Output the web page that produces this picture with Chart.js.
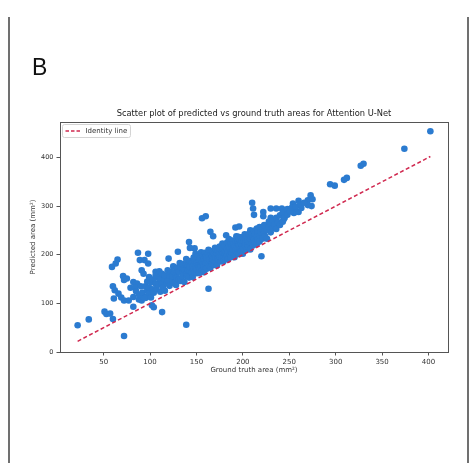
<!DOCTYPE html>
<html><head><meta charset="utf-8">
<script src="https://cdn.jsdelivr.net/npm/chart.js@4.4.0/dist/chart.umd.min.js"></script>
<style>
html,body{margin:0;padding:0;background:#fff;}
#wrap{position:relative;width:474px;height:474px;overflow:hidden;background:#fff;}
canvas{position:absolute;left:0;top:0;}
.vline{position:absolute;top:17px;height:446px;width:2px;background:#707070;}
#lbl{position:absolute;left:32px;top:56px;font:23px/23px "Liberation Sans",Arial,sans-serif;color:#111;}
</style></head><body>
<div id="wrap">
<canvas id="c" width="474" height="474"></canvas>
<div class="vline" style="left:8px"></div>
<div class="vline" style="left:467px"></div>
<div id="lbl">B</div>
</div>
<script>
const chartTitle = "Scatter plot of predicted vs ground truth areas for Attention U-Net";
const xAxisTitle = "Ground truth area (mm²)";
const yAxisTitle = "Predicted area (mm²)";
const legendLabel = "Identity line";
const xTicks = [50, 100, 150, 200, 250, 300, 350, 400];
const yTicks = [0, 100, 200, 300, 400];
const identityX = [22, 402];

// ground truth areas (x) and predicted areas (y)
const gtArea = [
22,34,51,53,57,60,72,139,113,102,104,59,63,65,87,98,89,94,98,60,62,66,69,61,72,77,82,88,91,93,82,71,75,72,82,86,79,84,91,93,106,111,120,130,142,148,143,149,156,160,163,165,168,182,192,196,210,211,212,215,211,220,254,260,273,270,275,270,274,230,236,242,244,222,222,255,260,256,263,230,236,244,294,299,309,312,327,330,374,402,
85,88,92,90,96,
95,95, 97,97, 99,99,99, 101,101, 103,103, 104, 106,106, 107, 109,109, 110, 111,111, 113,113, 114, 116,116,116, 118, 119,119,
121,121, 122, 124,124, 125, 126,126, 128,128, 129,129, 131,131, 132, 133,133, 135,135,135, 136, 137,137, 139,139,139,
140, 141,141, 142, 143,143,143, 145,145, 146,146, 147,147, 148,148, 149,149, 150,150,150, 151,151, 152,152, 153,153, 154,154,154,
155,155, 156,156, 157,157, 158,158,158, 159,159, 160,160,160, 161,161, 162,162, 163,163,163, 164,164, 165,165, 166,166,166,
167,167, 168,168, 169,169, 170,170,170, 171,171, 172,172, 173,173, 174,174, 175,175,175, 176,176, 177,177, 178,178, 179,179,179,
180,180, 181,181, 182,182, 183,183,183, 184,184, 185,185, 186,186, 187,187,187, 188,188, 189,189, 190,190,190, 191,191, 192,192,
193,193, 194,194, 195,195,195, 196,196, 197,197, 198,198,198, 199,199, 200,200,200, 201,201, 202,202, 203,203, 204,204, 205,205,
206,206, 207,207, 208,208,208, 210,210, 211,211, 212,212, 213,213, 215,215, 216,216, 218,218,218, 219, 221,221, 223,223, 224,
226,226, 228,228, 230,230, 232,232, 234, 236,236, 238, 240,240, 243,243, 245, 248,248, 251, 253, 257, 262, 266
];
const predArea = [
55,67,83,78,79,68,33,56,82,96,92,175,182,190,204,202,189,189,182,135,127,120,112,110,106,106,113,108,106,113,93,156,151,148,144,141,132,132,168,161,165,158,192,206,226,213,214,202,275,279,130,247,238,240,256,258,307,295,282,254,247,197,305,311,322,312,314,302,300,295,295,295,285,288,279,286,288,296,296,276,273,273,345,342,354,358,383,387,418,454,
125,118,122,135,113,
111,135, 126,145, 121,154,132, 112,143, 129,149, 122, 141,157, 130, 152,139, 166, 124,150, 140,161, 133, 149,126,157, 141, 168,147,
136,157, 165, 145,156, 176, 142,164, 157,138, 173,153, 165,149, 183, 146,173, 162,181,156, 171, 144,168, 180,161,191,
155, 177,168, 153, 187,167,176, 163,183, 175,154, 169,194, 186,163, 175,190, 162,183,170, 182,196, 170,179, 189,162, 178,193,170,
205,176, 185,168, 198,181, 176,191,164, 187,204, 175,196,183, 171,191, 201,183, 180,210,195, 190,177, 200,173, 186,207,193,
181,197, 205,190, 179,202, 198,187,214, 194,210, 178,203, 208,192, 188,201, 217,197,207, 186,212, 201,194, 223,206, 193,212,186,
206,219, 200,192, 216,205, 225,199,212, 206,190, 217,232, 200,212, 223,206,195, 217,204, 229,212, 201,222,210, 216,195, 229,209,
215,238, 203,224, 229,212,237, 201,221, 229,210, 224,207,236, 218,229, 214,235,202, 228,212, 219,242, 234,224, 211,238, 229,220,
242,216, 226,235, 211,250,232, 225,242, 219,237, 249,231, 225,243, 238,222, 249,231, 238,257,227, 246, 233,252, 246,261, 238,
251,233, 257,268, 246,262, 255,271, 262, 253,276, 266, 261,281, 268,287, 276, 282,294, 289, 297, 299, 304, 307
];

const FONT = "'DejaVu Sans', sans-serif";
const scatterPoints = gtArea.map((g, i) => ({x: g, y: predArea[i]}));
const identityPoints = identityX.map(v => ({x: v, y: v}));
const LINE_COLOR = '#d0284f';

const framePlugin = {
  id: 'frames',
  afterDatasetsDraw(chart) {
    const a = chart.chartArea, ctx = chart.ctx;
    ctx.save();
    ctx.strokeStyle = '#555';
    ctx.lineWidth = 1;
    ctx.strokeRect(Math.round(a.left) + 0.5, Math.round(a.top) + 0.5, Math.round(a.right - a.left), Math.round(a.bottom - a.top));
    // legend box inside the plot, upper left
    const lx = Math.round(a.left) + 2.5, ly = Math.round(a.top) + 2.5, lw = 68, lh = 13;
    ctx.fillStyle = 'rgba(255,255,255,0.85)';
    ctx.strokeStyle = '#d4d4d4';
    ctx.beginPath();
    if (ctx.roundRect) ctx.roundRect(lx, ly, lw, lh, 2); else ctx.rect(lx, ly, lw, lh);
    ctx.fill(); ctx.stroke();
    const cy = ly + lh / 2;
    ctx.strokeStyle = LINE_COLOR;
    ctx.lineWidth = 1.5;
    ctx.setLineDash([3.5, 2]);
    ctx.beginPath(); ctx.moveTo(lx + 3, cy); ctx.lineTo(lx + 19, cy); ctx.stroke();
    ctx.setLineDash([]);
    ctx.fillStyle = '#333';
    ctx.font = "7px 'DejaVu Sans', sans-serif";
    ctx.textBaseline = 'middle';
    ctx.textAlign = 'left';
    ctx.fillText(legendLabel, lx + 23, cy + 0.5);
    ctx.restore();
  }
};

new Chart(document.getElementById('c'), {
  type: 'scatter',
  data: {
    datasets: [
      {
        type: 'line', label: legendLabel, data: identityPoints,
        borderColor: LINE_COLOR, backgroundColor: LINE_COLOR, borderWidth: 1.5,
        borderDash: [4, 2.5], pointRadius: 0, showLine: true, fill: false
      },
      {
        label: 'points', data: scatterPoints,
        backgroundColor: '#2b7bd0', borderWidth: 0, pointRadius: 3.3, pointHoverRadius: 3.3
      }
    ]
  },
  options: {
    responsive: false, animation: false, devicePixelRatio: 1,
    layout: {padding: {top: 100, left: 20, right: 26, bottom: 96}},
    plugins: {
      title: {display: true, fullSize: false, text: chartTitle, color: '#222', font: {size: 8.3, family: FONT, weight: 'normal'}, padding: {top: 9.0, bottom: 3.0}},
      legend: {display: false},
      tooltip: {enabled: false}
    },
    scales: {
      x: {
        type: 'linear', min: 3, max: 421,
        afterBuildTicks: s => { s.ticks = xTicks.map(v => ({value: v})); },
        afterFit: s => { s.height = 26; },
        grid: {display: true, drawOnChartArea: false, drawTicks: true, tickLength: 3.5, color: '#555'},
        border: {display: false},
        ticks: {font: {size: 7, family: FONT}, color: '#333', padding: 2, maxRotation: 0},
        title: {display: true, text: xAxisTitle, font: {size: 7, family: FONT}, color: '#333', padding: {top: 0, bottom: 3.8}}
      },
      y: {
        type: 'linear', min: 0, max: 473,
        afterBuildTicks: s => { s.ticks = yTicks.map(v => ({value: v})); },
        afterFit: s => { s.width = 40; },
        grid: {display: true, drawOnChartArea: false, drawTicks: true, tickLength: 3.5, color: '#555'},
        border: {display: false},
        ticks: {font: {size: 6.5, family: FONT}, color: '#333', padding: 3},
        title: {display: true, text: yAxisTitle, font: {size: 7, family: FONT}, color: '#333', padding: {top: 8.8, bottom: 0}}
      }
    }
  },
  plugins: [framePlugin]
});
</script>
</body></html>
